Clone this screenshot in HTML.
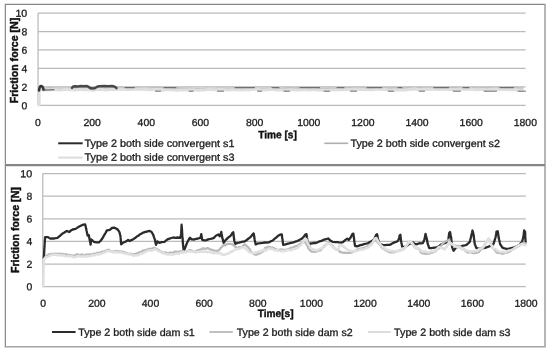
<!DOCTYPE html>
<html><head><meta charset="utf-8"><title>Friction force</title>
<style>html,body{margin:0;padding:0;background:#fff}svg{display:block}</style></head>
<body>
<svg width="550" height="354" viewBox="0 0 550 354" font-family="Liberation Sans, sans-serif" fill="#1c1c1c" stroke="#1c1c1c" stroke-width="0.3">
<rect x="0" y="0" width="550" height="354" fill="#fff" stroke="none"/>

<g fill="none" stroke="#868686">
<path d="M5.35 347.2 V4.4 H545.4" stroke-width="1.2"/>
<path d="M545 3.9 V346.8 H4.8" stroke-width="1.6" stroke="#a4a4a4"/>
<path d="M5 165.1 H545" stroke-width="2.1"/>
</g>
<g fill="none" stroke="#bababa" stroke-width="1.25">
<path d="M38.05 13.05 H525.60"/>
<path d="M38.05 31.52 H525.60"/>
<path d="M38.05 49.99 H525.60"/>
<path d="M38.05 68.46 H525.60"/>
<path d="M38.05 86.93 H525.60"/>
<path d="M38.05 105.40 H525.60"/>
<path d="M38.05 13.05 V105.40"/>
</g>
<g fill="none" stroke="#bababa" stroke-width="1.25">
<path d="M42.75 173.60 H525.80"/>
<path d="M42.75 196.22 H525.80"/>
<path d="M42.75 218.84 H525.80"/>
<path d="M42.75 241.46 H525.80"/>
<path d="M42.75 264.08 H525.80"/>
<path d="M42.75 286.70 H525.80"/>
<path d="M42.75 173.60 V286.70"/>
</g>
<text transform="translate(27.20 16.80) rotate(0.1)" font-size="10.10" text-anchor="end" textLength="11.8" lengthAdjust="spacingAndGlyphs">10</text>
<text transform="translate(32.20 177.25) rotate(0.1)" font-size="10.10" text-anchor="end" textLength="11.9" lengthAdjust="spacingAndGlyphs">10</text>
<text transform="translate(27.20 35.27) rotate(0.1)" font-size="10.10" text-anchor="end" textLength="5.8" lengthAdjust="spacingAndGlyphs">8</text>
<text transform="translate(32.20 199.87) rotate(0.1)" font-size="10.10" text-anchor="end" textLength="5.8" lengthAdjust="spacingAndGlyphs">8</text>
<text transform="translate(27.20 53.74) rotate(0.1)" font-size="10.10" text-anchor="end" textLength="5.8" lengthAdjust="spacingAndGlyphs">6</text>
<text transform="translate(32.20 222.49) rotate(0.1)" font-size="10.10" text-anchor="end" textLength="5.8" lengthAdjust="spacingAndGlyphs">6</text>
<text transform="translate(27.20 72.21) rotate(0.1)" font-size="10.10" text-anchor="end" textLength="5.8" lengthAdjust="spacingAndGlyphs">4</text>
<text transform="translate(32.20 245.11) rotate(0.1)" font-size="10.10" text-anchor="end" textLength="5.8" lengthAdjust="spacingAndGlyphs">4</text>
<text transform="translate(27.20 90.68) rotate(0.1)" font-size="10.10" text-anchor="end" textLength="5.8" lengthAdjust="spacingAndGlyphs">2</text>
<text transform="translate(32.20 267.73) rotate(0.1)" font-size="10.10" text-anchor="end" textLength="5.8" lengthAdjust="spacingAndGlyphs">2</text>
<text transform="translate(27.20 109.15) rotate(0.1)" font-size="10.10" text-anchor="end" textLength="5.8" lengthAdjust="spacingAndGlyphs">0</text>
<text transform="translate(32.20 290.35) rotate(0.1)" font-size="10.10" text-anchor="end" textLength="5.8" lengthAdjust="spacingAndGlyphs">0</text>
<text transform="translate(38.00 126.10) rotate(0.1)" font-size="10.10" text-anchor="middle" textLength="5.8" lengthAdjust="spacingAndGlyphs">0</text>
<text transform="translate(43.20 306.80) rotate(0.1)" font-size="10.10" text-anchor="middle" textLength="5.8" lengthAdjust="spacingAndGlyphs">0</text>
<text transform="translate(92.15 126.10) rotate(0.1)" font-size="10.10" text-anchor="middle" textLength="17.4" lengthAdjust="spacingAndGlyphs">200</text>
<text transform="translate(96.85 306.80) rotate(0.1)" font-size="10.10" text-anchor="middle" textLength="17.4" lengthAdjust="spacingAndGlyphs">200</text>
<text transform="translate(146.30 126.10) rotate(0.1)" font-size="10.10" text-anchor="middle" textLength="17.4" lengthAdjust="spacingAndGlyphs">400</text>
<text transform="translate(150.50 306.80) rotate(0.1)" font-size="10.10" text-anchor="middle" textLength="17.4" lengthAdjust="spacingAndGlyphs">400</text>
<text transform="translate(200.45 126.10) rotate(0.1)" font-size="10.10" text-anchor="middle" textLength="17.4" lengthAdjust="spacingAndGlyphs">600</text>
<text transform="translate(204.15 306.80) rotate(0.1)" font-size="10.10" text-anchor="middle" textLength="17.4" lengthAdjust="spacingAndGlyphs">600</text>
<text transform="translate(254.60 126.10) rotate(0.1)" font-size="10.10" text-anchor="middle" textLength="17.4" lengthAdjust="spacingAndGlyphs">800</text>
<text transform="translate(257.80 306.80) rotate(0.1)" font-size="10.10" text-anchor="middle" textLength="17.4" lengthAdjust="spacingAndGlyphs">800</text>
<text transform="translate(308.75 126.10) rotate(0.1)" font-size="10.10" text-anchor="middle" textLength="23.2" lengthAdjust="spacingAndGlyphs">1000</text>
<text transform="translate(311.45 306.80) rotate(0.1)" font-size="10.10" text-anchor="middle" textLength="23.2" lengthAdjust="spacingAndGlyphs">1000</text>
<text transform="translate(362.90 126.10) rotate(0.1)" font-size="10.10" text-anchor="middle" textLength="23.2" lengthAdjust="spacingAndGlyphs">1200</text>
<text transform="translate(365.10 306.80) rotate(0.1)" font-size="10.10" text-anchor="middle" textLength="23.2" lengthAdjust="spacingAndGlyphs">1200</text>
<text transform="translate(417.05 126.10) rotate(0.1)" font-size="10.10" text-anchor="middle" textLength="23.2" lengthAdjust="spacingAndGlyphs">1400</text>
<text transform="translate(418.75 306.80) rotate(0.1)" font-size="10.10" text-anchor="middle" textLength="23.2" lengthAdjust="spacingAndGlyphs">1400</text>
<text transform="translate(471.20 126.10) rotate(0.1)" font-size="10.10" text-anchor="middle" textLength="23.2" lengthAdjust="spacingAndGlyphs">1600</text>
<text transform="translate(472.40 306.80) rotate(0.1)" font-size="10.10" text-anchor="middle" textLength="23.2" lengthAdjust="spacingAndGlyphs">1600</text>
<text transform="translate(525.35 126.10) rotate(0.1)" font-size="10.10" text-anchor="middle" textLength="23.2" lengthAdjust="spacingAndGlyphs">1800</text>
<text transform="translate(526.05 306.80) rotate(0.1)" font-size="10.10" text-anchor="middle" textLength="23.2" lengthAdjust="spacingAndGlyphs">1800</text>
<text transform="translate(258.20 138.20) rotate(0.1)" font-size="10.60" textLength="38.7" lengthAdjust="spacingAndGlyphs" font-weight="bold" stroke="#111" stroke-width="0.4" fill="#111">Time [s]</text>
<text transform="translate(257.80 316.90) rotate(0.1)" font-size="10.60" textLength="35.8" lengthAdjust="spacingAndGlyphs" font-weight="bold" stroke="#111" stroke-width="0.4" fill="#111">Time[s]</text>
<text transform="translate(17.7 103.3) rotate(-90)" font-size="10.6" font-weight="bold" stroke="#111" stroke-width="0.45" fill="#111" textLength="85.6" lengthAdjust="spacingAndGlyphs">Friction force [N]</text>
<text transform="translate(18.8 273.1) rotate(-90)" font-size="10.6" font-weight="bold" stroke="#111" stroke-width="0.45" fill="#111" textLength="86.0" lengthAdjust="spacingAndGlyphs">Friction force [N]</text>
<g fill="none" stroke-linejoin="round" stroke-linecap="round">
<path d="M38.5 88.4 L42.5 88.6 L46.5 88.1 L50.5 87.8 L54.5 88.2 L58.5 88.3 L62.5 88.3 L66.5 88.1 L70.5 88.2 L74.5 88.2 L78.5 88.2 L82.5 87.9 L86.5 88.0 L90.5 87.9 L94.5 88.2 L98.5 88.5 L102.5 88.6 L106.5 88.5 L110.5 88.3 L114.5 88.0 L118.5 87.7 L122.5 87.6 L126.5 87.7 L130.5 87.8 L134.5 87.8 L138.5 88.2 L142.5 88.2 L146.5 88.2 L150.5 88.0 L154.5 87.7 L158.5 87.7 L162.5 87.6 L166.5 87.8 L170.5 88.3 L174.5 88.3 L178.5 88.0 L182.5 88.3 L186.5 88.4 L190.5 88.5 L194.5 88.6 L198.5 88.6 L202.5 88.6 L206.5 88.3 L210.5 88.6 L214.5 88.7 L218.5 88.2 L222.5 88.3 L226.5 88.4 L230.5 88.3 L234.5 88.2 L238.5 88.2 L242.5 88.4 L246.5 88.3 L250.5 88.5 L254.5 88.2 L258.5 88.4 L262.5 88.6 L266.5 88.4 L270.5 88.3 L274.5 88.5 L278.5 88.5 L282.5 88.3 L286.5 88.0 L290.5 87.9 L294.5 88.1 L298.5 87.9 L302.5 88.3 L306.5 88.0 L310.5 88.3 L314.5 88.1 L318.5 88.4 L322.5 88.4 L326.5 88.3 L330.5 88.2 L334.5 88.3 L338.5 88.3 L342.5 88.1 L346.5 87.9 L350.5 88.0 L354.5 88.3 L358.5 88.3 L362.5 87.9 L366.5 88.2 L370.5 88.3 L374.5 88.5 L378.5 88.1 L382.5 88.3 L386.5 87.9 L390.5 88.1 L394.5 87.9 L398.5 87.8 L402.5 88.2 L406.5 87.9 L410.5 88.0 L414.5 88.3 L418.5 88.0 L422.5 87.9 L426.5 88.2 L430.5 88.1 L434.5 88.3 L438.5 87.9 L442.5 87.9 L446.5 87.7 L450.5 88.0 L454.5 87.7 L458.5 88.2 L462.5 87.8 L466.5 88.1 L470.5 87.8 L474.5 87.7 L478.5 88.1 L482.5 87.9 L486.5 87.7 L490.5 88.0 L494.5 88.0 L498.5 87.7 L502.5 88.2 L506.5 87.9 L510.5 87.7 L514.5 87.7 L518.5 88.0 L522.5 88.2" stroke="#c0c0c0" stroke-width="1.8"/>
<path d="M39.2 105.0 L39.2 91.0 L39.6 89.4 L42.6 89.8 L45.6 90.0 L48.6 89.7 L51.6 89.7 L54.6 89.6 L57.6 89.8 L60.6 90.0 L63.6 89.5 L66.6 89.2 L69.6 89.7 L72.6 89.6 L75.6 89.9 L78.6 89.4 L81.6 89.5 L84.6 89.7 L87.6 89.5 L90.6 89.9 L93.6 90.2 L96.6 89.6 L99.6 89.3 L102.6 89.5 L105.6 89.9 L108.6 89.7 L111.6 89.5 L114.6 89.5 L117.6 89.2 L120.6 89.2 L123.6 89.3 L126.6 89.5 L129.6 89.4 L132.6 89.3 L135.6 89.2 L138.6 89.4 L141.6 89.3 L144.6 89.1 L147.6 89.6 L150.6 89.7 L153.6 89.8 L156.6 89.5 L159.6 90.0 L162.6 90.2 L165.6 89.7 L168.6 89.5 L171.6 89.8 L174.6 89.9 L177.6 90.2 L180.6 89.9 L183.6 90.1 L186.6 90.1 L189.6 89.8 L192.6 89.8 L195.6 90.1 L198.6 90.2 L201.6 90.0 L204.6 90.0 L207.6 89.5 L210.6 89.4 L213.6 89.7 L216.6 89.7 L219.6 89.4 L222.6 89.6 L225.6 89.8 L228.6 89.9 L231.6 89.7 L234.6 89.7 L237.6 89.7 L240.6 89.9 L243.6 89.8 L246.6 89.7 L249.6 89.7 L252.6 89.3 L255.6 89.1 L258.6 89.5 L261.6 90.0 L264.6 89.9 L267.6 89.8 L270.6 89.5 L273.6 89.6 L276.6 90.0 L279.6 90.1 L282.6 90.0 L285.6 90.2 L288.6 89.8 L291.6 89.7 L294.6 90.1 L297.6 90.0 L300.6 89.8 L303.6 89.6 L306.6 89.7 L309.6 90.1 L312.6 89.5 L315.6 89.8 L318.6 90.0 L321.6 90.2 L324.6 90.2 L327.6 90.2 L330.6 90.0 L333.6 90.0 L336.6 89.8 L339.6 89.4 L342.6 89.8 L345.6 89.8 L348.6 89.5 L351.6 89.6 L354.6 89.6 L357.6 89.5 L360.6 89.5 L363.6 89.6 L366.6 89.7 L369.6 89.8 L372.6 89.7 L375.6 89.3 L378.6 89.3 L381.6 89.2 L384.6 89.5 L387.6 89.8 L390.6 90.0 L393.6 90.1 L396.6 90.2 L399.6 89.8 L402.6 90.0 L405.6 90.0 L408.6 89.6 L411.6 89.2 L414.6 89.0 L417.6 89.5 L420.6 89.4 L423.6 89.2 L426.6 89.5 L429.6 89.5 L432.6 89.2 L435.6 89.1 L438.6 89.4 L441.6 89.2 L444.6 89.2 L447.6 89.6 L450.6 89.6 L453.6 89.5 L456.6 89.6 L459.6 89.2 L462.6 89.3 L465.6 89.4 L468.6 89.3 L471.6 89.1 L474.6 89.7 L477.6 89.7 L480.6 89.5 L483.6 89.6 L486.6 89.9 L489.6 89.4 L492.6 89.2 L495.6 89.1 L498.6 89.5 L501.6 89.3 L504.6 89.6 L507.6 89.8 L510.6 89.8 L513.6 89.5 L516.6 90.0 L519.6 90.1 L522.6 90.0" stroke="#dedede" stroke-width="3.0"/>
<path d="M39.0 90.6 L39.5 88.0 L40.3 86.3 L41.4 86.0 L42.4 86.5 L43.1 88.0 L43.6 89.8" stroke="#333" stroke-width="2.5"/>
<path d="M43.6 89.9 L48.0 90.0 L54.0 89.7" stroke="#555" stroke-width="1.1"/>
<path d="M72.0 87.8 L73.2 86.5 L75.0 86.2 L78.0 86.5 L81.0 86.0 L84.0 86.2 L87.0 86.1 L88.6 86.8 L90.0 88.0 L92.0 88.5 L94.5 88.3 L96.0 87.5 L97.5 86.5 L100.0 86.2 L104.0 86.0 L108.0 86.3 L112.0 86.1 L114.3 86.5 L115.6 87.3 L116.5 88.2" stroke="#484848" stroke-width="2.5"/>
<path d="M125.0 87.7 H134.5" stroke="#5c5c5c" stroke-width="1.0"/>
<path d="M164.0 87.7 H176.0" stroke="#5c5c5c" stroke-width="1.0"/>
<path d="M235.0 87.7 H254.6" stroke="#5c5c5c" stroke-width="1.0"/>
<path d="M272.0 87.7 H279.0" stroke="#5c5c5c" stroke-width="1.0"/>
<path d="M300.0 87.7 H319.6" stroke="#5c5c5c" stroke-width="1.0"/>
<path d="M337.0 87.7 H344.0" stroke="#5c5c5c" stroke-width="1.0"/>
<path d="M367.0 87.7 H382.0" stroke="#5c5c5c" stroke-width="1.0"/>
<path d="M398.0 87.7 H402.0" stroke="#5c5c5c" stroke-width="1.0"/>
<path d="M433.6 87.7 H448.6" stroke="#5c5c5c" stroke-width="1.0"/>
<path d="M463.0 87.7 H469.0" stroke="#5c5c5c" stroke-width="1.0"/>
<path d="M500.0 87.7 H513.5" stroke="#5c5c5c" stroke-width="1.0"/>
<path d="M155.5 91.2 H160.5" stroke="#606060" stroke-width="0.9"/>
<path d="M189.2 91.2 H193.1" stroke="#606060" stroke-width="0.9"/>
<path d="M217.5 91.2 H223.5" stroke="#606060" stroke-width="0.9"/>
<path d="M257.5 91.2 H261.5" stroke="#606060" stroke-width="0.9"/>
<path d="M284.0 91.2 H289.5" stroke="#606060" stroke-width="0.9"/>
<path d="M324.1 91.2 H329.5" stroke="#606060" stroke-width="0.9"/>
<path d="M350.5 91.2 H356.5" stroke="#606060" stroke-width="0.9"/>
<path d="M388.3 91.2 H393.5" stroke="#606060" stroke-width="0.9"/>
<path d="M419.2 91.2 H424.5" stroke="#606060" stroke-width="0.9"/>
<path d="M453.2 91.2 H460.5" stroke="#606060" stroke-width="0.9"/>
<path d="M484.1 91.2 H496.5" stroke="#606060" stroke-width="0.9"/>
<path d="M518.1 91.2 H525.5" stroke="#606060" stroke-width="0.9"/>
</g>
<g fill="none" stroke-linejoin="round" stroke-linecap="round">
<path d="M43.8 258.5 L43.9 256.9 L44.0 255.4 L44.1 253.9 L44.2 252.4 L44.2 250.8 L44.3 249.3 L44.4 247.8 L44.5 246.3 L44.6 244.7 L44.7 243.2 L44.8 241.7 L44.9 240.1 L45.0 238.6 L45.1 237.1 L48.0 237.1 L50.2 238.6 L52.0 238.5 L53.8 238.5 L55.6 238.2 L57.5 237.8 L58.9 236.6 L60.4 235.5 L61.8 234.2 L63.1 233.2 L64.4 232.5 L65.6 231.6 L66.9 231.0 L69.1 232.0 L70.9 230.5 L72.7 229.5 L75.6 228.9 L77.1 227.9 L78.5 226.9 L80.2 226.0 L81.9 225.2 L83.6 224.7 L85.1 224.3 L85.5 225.8 L85.8 227.4 L86.2 228.8 L86.5 230.5 L86.9 232.2 L87.3 234.1 L87.7 235.6 L88.7 234.9 L89.1 236.6 L89.4 238.4 L89.7 240.0 L90.2 242.1 L90.6 244.5 L90.8 242.9 L91.0 241.1 L91.2 239.3 L92.5 240.5 L93.8 241.8 L96.7 242.4 L98.9 242.4 L100.4 241.0 L101.8 239.3 L102.8 237.7 L103.8 235.8 L104.7 234.3 L105.8 232.5 L106.9 230.4 L109.8 229.8 L112.0 228.0 L114.2 227.6 L115.0 228.0 L117.2 229.1 L118.3 230.3 L119.4 232.0 L119.8 233.6 L120.1 234.8 L120.5 236.3 L120.6 237.9 L120.8 239.8 L120.9 241.3 L121.0 242.6 L121.1 244.3 L123.0 242.8 L125.2 241.8 L126.6 241.1 L128.1 239.9 L129.5 241.0 L131.4 240.1 L133.2 239.2 L135.0 238.1 L136.8 236.6 L138.3 235.8 L139.7 234.5 L141.2 233.7 L142.6 232.9 L144.1 232.3 L145.5 231.8 L147.4 231.5 L149.2 230.9 L151.4 231.8 L152.5 233.5 L153.5 235.6 L154.0 237.3 L154.5 238.6 L155.0 239.9 L155.3 241.8 L155.7 243.1 L156.0 244.8 L156.7 243.3 L157.5 241.4 L159.4 242.9 L161.5 242.1 L164.5 241.8 L166.6 240.0 L168.1 239.1 L169.5 238.6 L171.4 238.0 L173.2 237.5 L175.4 237.8 L177.5 237.5 L180.2 237.8 L180.7 235.8 L181.2 233.4 L181.3 231.5 L181.4 230.2 L181.4 228.4 L181.5 226.3 L181.6 224.7 L181.7 226.6 L181.9 228.4 L182.0 229.8 L182.1 231.9 L182.2 233.5 L182.3 235.2 L182.4 236.7 L182.6 238.2 L182.7 239.9 L182.8 242.0 L182.9 243.3 L183.1 245.1 L183.3 246.8 L183.5 248.9 L183.7 250.6 L184.8 248.7 L185.4 247.1 L185.9 245.9 L186.5 244.1 L187.0 242.9 L187.7 241.5 L188.5 240.2 L189.2 238.6 L190.0 237.8 L191.5 239.4 L194.4 239.5 L196.2 238.8 L198.0 238.5 L200.5 237.8 L200.9 235.8 L201.3 234.1 L201.6 236.1 L201.9 238.1 L202.2 239.9 L204.5 240.4 L206.4 240.1 L208.2 239.4 L210.0 239.0 L211.8 238.6 L214.0 237.8 L215.1 236.5 L216.2 235.5 L218.4 234.5 L219.8 236.4 L220.3 235.0 L220.8 233.7 L221.3 231.9 L221.6 234.0 L222.0 235.9 L222.3 237.9 L222.8 239.4 L223.3 241.5 L223.7 242.8 L224.7 241.5 L225.6 240.0 L226.7 239.1 L227.8 237.9 L229.3 236.8 L230.7 235.7 L231.6 234.4 L232.5 232.7 L233.3 232.3 L233.5 234.2 L233.7 236.0 L233.9 237.5 L234.1 239.3 L234.4 241.0 L234.8 242.4 L235.1 244.0 L237.3 242.9 L239.1 242.6 L240.9 242.2 L242.7 241.6 L244.5 241.5 L246.0 240.6 L247.5 239.3 L248.9 238.3 L250.4 237.1 L251.6 235.8 L252.8 234.2 L253.7 233.4 L254.0 235.3 L254.2 236.5 L254.5 238.5 L254.7 239.9 L255.2 242.2 L255.7 244.4 L258.4 243.3 L260.5 243.2 L262.7 242.9 L265.0 242.5 L266.8 242.7 L268.6 242.4 L270.5 241.4 L272.3 240.7 L273.5 239.8 L274.7 238.6 L275.9 237.8 L277.0 236.9 L278.1 235.7 L280.3 234.6 L281.7 234.3 L282.0 235.8 L282.2 237.7 L282.5 239.2 L282.7 241.1 L282.9 243.1 L283.2 244.9 L285.4 244.4 L287.2 243.8 L289.0 243.4 L291.2 242.8 L293.4 242.4 L295.2 241.7 L297.0 241.1 L298.8 240.3 L300.6 239.3 L302.1 238.4 L303.5 237.0 L304.5 235.7 L305.4 234.6 L306.5 234.1 L306.7 235.7 L306.9 237.5 L307.2 239.3 L307.4 240.9 L307.7 242.5 L307.9 244.4 L308.2 245.9 L309.1 246.5 L309.6 244.9 L310.1 243.5 L312.3 243.4 L314.1 242.9 L315.9 243.0 L317.7 242.2 L319.5 241.4 L321.4 240.9 L323.2 239.9 L326.1 239.2 L328.3 238.5 L329.7 239.9 L331.2 241.1 L332.6 241.8 L335.5 242.1 L337.4 242.1 L339.2 242.5 L340.0 242.9 L342.9 242.2 L344.0 241.2 L345.1 240.1 L347.3 238.6 L348.7 240.0 L350.5 237.8 L351.4 236.0 L352.4 234.1 L353.4 233.6 L353.6 235.6 L353.9 237.5 L354.1 239.2 L354.3 240.8 L354.5 242.5 L354.8 244.3 L355.0 245.8 L356.7 246.3 L358.5 245.8 L360.4 245.1 L361.8 244.8 L363.3 244.5 L364.7 243.8 L366.5 243.6 L368.4 243.0 L369.8 242.0 L371.3 241.4 L372.7 240.4 L374.2 239.4 L374.8 237.8 L375.4 236.4 L376.1 235.0 L377.1 234.2 L377.5 236.2 L377.8 237.8 L378.2 239.6 L378.6 241.1 L379.0 243.0 L380.7 244.4 L382.9 244.8 L385.1 245.1 L387.3 244.8 L389.5 244.9 L391.3 244.1 L393.1 243.0 L394.5 242.4 L396.0 241.9 L398.2 240.7 L398.7 239.2 L399.2 237.5 L399.6 235.6 L400.4 234.8 L400.6 236.8 L400.8 238.8 L401.1 240.8 L401.4 242.7 L401.8 244.4 L402.1 246.6 L404.0 247.2 L405.5 246.7 L406.9 245.8 L408.4 244.6 L409.8 243.7 L411.3 242.7 L412.7 242.1 L414.2 243.3 L415.6 244.4 L417.5 244.0 L419.3 243.2 L421.0 243.4 L422.7 243.1 L423.7 241.3 L424.6 238.9 L424.9 237.2 L425.2 235.6 L425.5 233.9 L426.0 235.9 L426.5 237.8 L426.9 239.3 L427.2 241.1 L427.5 242.5 L427.8 244.1 L428.5 245.9 L429.1 248.0 L431.0 248.1 L432.9 247.9 L434.6 247.7 L436.3 247.5 L438.0 246.9 L439.3 246.0 L440.5 244.9 L441.8 244.1 L443.7 243.5 L445.6 242.8 L446.9 241.6 L448.2 241.0 L448.4 239.3 L448.6 237.7 L448.8 236.2 L449.0 234.5 L449.2 232.9 L450.0 232.0 L450.4 233.7 L450.8 235.9 L451.2 237.8 L451.3 239.6 L451.5 241.2 L451.7 242.4 L451.8 244.1 L452.0 245.5 L452.2 247.3 L452.9 249.1 L453.6 250.7 L454.7 249.3 L455.8 248.0 L457.3 247.1 L458.7 246.6 L460.9 246.4 L463.1 245.7 L464.9 245.4 L466.7 244.7 L468.2 243.3 L469.6 242.1 L470.0 240.8 L470.4 239.2 L470.8 237.7 L471.1 236.4 L471.5 234.8 L472.0 232.8 L472.5 230.5 L473.1 232.7 L473.6 234.9 L473.8 236.5 L474.0 238.4 L474.3 240.1 L474.5 241.8 L474.7 243.6 L475.2 245.1 L475.7 246.4 L476.2 247.9 L479.1 248.8 L481.3 248.4 L483.5 248.0 L484.9 247.8 L486.4 247.3 L487.8 246.9 L489.6 246.2 L491.5 245.9 L492.5 244.9 L493.6 243.7 L494.1 242.1 L494.5 240.6 L494.9 239.5 L495.4 237.8 L495.7 236.5 L496.0 235.0 L496.3 233.1 L496.5 231.7 L497.7 231.3 L498.0 232.8 L498.2 234.3 L498.5 236.3 L498.7 237.8 L499.1 239.6 L499.5 240.9 L499.8 242.7 L500.2 244.4 L501.3 245.8 L502.4 247.6 L504.5 248.3 L506.7 248.8 L508.9 248.7 L511.1 248.2 L512.5 247.8 L514.0 247.5 L515.5 246.8 L517.3 246.1 L519.1 245.0 L520.5 243.4 L522.0 242.1 L522.5 240.0 L523.0 238.3 L523.5 236.4 L523.7 234.5 L523.9 232.3 L524.2 230.5 L525.1 231.9 L525.2 233.9 L525.2 235.6 L525.3 237.3 L525.4 238.6 L525.5 240.3 L525.6 242.2" stroke="#2b2b2b" stroke-width="2.3"/>
<path d="M43.3 264.0 L43.4 262.5 L43.5 261.1 L43.6 259.6 L44.7 258.2 L45.8 256.5 L47.3 255.3 L48.7 254.4 L50.2 254.2 L51.6 253.8 L53.1 254.1 L54.5 253.6 L56.0 253.7 L57.5 253.8 L58.9 253.9 L60.4 253.6 L61.8 254.0 L63.3 254.1 L64.7 254.9 L66.2 254.1 L67.6 255.2 L69.1 254.8 L70.5 255.4 L72.0 255.3 L73.5 255.7 L74.9 255.7 L76.4 254.5 L77.8 254.5 L79.3 255.2 L80.7 254.8 L82.2 254.5 L83.6 255.2 L85.1 255.4 L86.5 254.4 L88.0 254.7 L89.5 254.5 L90.9 254.3 L92.4 254.4 L93.8 253.7 L95.3 253.9 L96.7 253.0 L98.2 252.8 L99.6 252.9 L101.1 252.2 L102.5 251.7 L104.0 251.4 L105.5 250.8 L106.9 250.2 L108.4 249.7 L109.8 250.6 L111.3 251.4 L112.7 251.6 L114.2 251.5 L115.6 251.1 L117.1 251.1 L118.5 251.3 L120.8 251.7 L122.3 251.6 L123.7 252.1 L125.2 252.6 L126.6 253.1 L128.1 253.8 L129.5 253.8 L131.0 253.7 L132.5 254.7 L133.9 254.1 L135.4 253.9 L136.8 253.4 L138.3 252.8 L139.7 252.1 L141.2 251.8 L142.6 250.7 L144.1 250.7 L145.5 250.0 L147.0 250.0 L148.5 248.9 L149.9 248.8 L151.4 248.7 L152.8 248.5 L154.3 247.8 L155.7 248.7 L157.2 249.1 L158.6 250.1 L160.1 250.9 L161.5 252.1 L163.0 252.4 L164.5 253.0 L165.9 252.4 L167.4 253.4 L168.8 253.0 L170.3 252.5 L171.7 252.9 L173.2 252.5 L174.6 251.6 L176.1 251.7 L177.5 252.1 L179.0 251.6 L180.5 251.4 L181.9 251.1 L183.4 251.1 L184.8 251.7 L186.3 251.7 L187.7 251.2 L189.2 250.2 L190.0 250.0 L191.5 250.5 L192.9 251.5 L194.4 251.8 L195.8 251.3 L197.3 250.4 L198.7 250.2 L200.2 249.5 L201.6 249.1 L203.1 248.2 L204.5 248.8 L206.0 248.7 L207.5 248.1 L208.9 248.5 L210.4 249.7 L211.8 249.6 L213.3 250.6 L214.7 250.5 L216.2 251.0 L217.6 250.8 L219.1 250.1 L220.0 248.9 L220.9 247.7 L221.8 247.1 L222.7 245.9 L223.9 244.9 L225.2 245.3 L226.4 244.3 L227.8 243.8 L229.3 243.8 L230.7 243.8 L232.2 244.4 L233.6 245.1 L235.1 246.6 L236.5 247.5 L238.0 247.6 L239.5 247.2 L240.9 247.3 L242.1 246.7 L243.3 245.7 L244.5 244.4 L245.8 245.2 L247.0 246.2 L248.2 247.4 L248.9 248.4 L249.6 248.9 L250.4 250.8 L251.1 251.8 L252.2 252.7 L253.3 253.5 L254.4 254.3 L255.5 254.6 L256.9 254.5 L258.4 253.7 L259.8 253.4 L260.9 252.5 L262.0 251.6 L263.1 251.5 L264.2 250.3 L265.0 248.0 L266.5 247.7 L267.9 246.8 L269.4 246.9 L270.8 247.5 L272.3 247.7 L273.7 248.2 L275.2 248.8 L276.6 249.4 L278.1 250.3 L279.5 249.7 L281.0 249.5 L282.5 249.6 L283.9 249.8 L285.4 249.8 L286.8 249.5 L288.3 249.4 L289.7 248.5 L291.2 247.7 L292.6 247.7 L294.1 247.2 L295.5 246.2 L297.0 246.0 L298.5 245.0 L299.7 244.1 L300.9 243.4 L302.1 243.1 L303.2 241.6 L304.3 241.4 L305.4 242.7 L306.5 244.2 L307.2 245.7 L307.9 247.0 L308.6 248.9 L309.6 249.7 L310.6 250.9 L311.5 251.5 L313.0 251.6 L314.5 251.8 L315.9 251.8 L317.4 250.9 L318.8 250.6 L320.3 250.3 L321.2 249.6 L322.2 247.9 L323.2 247.3 L324.2 246.6 L325.1 245.2 L326.1 244.4 L327.5 243.8 L329.0 243.1 L330.5 244.1 L331.9 245.2 L332.9 246.1 L333.8 247.8 L334.8 248.6 L336.3 249.5 L337.7 250.0 L339.2 250.8 L340.0 252.2 L341.5 252.2 L342.9 252.8 L344.4 252.6 L345.8 252.9 L347.3 253.2 L348.7 252.5 L350.2 253.0 L351.6 252.4 L353.1 251.5 L354.5 251.3 L356.0 250.4 L357.5 249.5 L358.9 248.8 L360.4 248.9 L361.8 248.4 L363.3 248.0 L364.7 247.7 L366.2 246.9 L367.6 246.6 L368.7 245.4 L369.8 244.6 L370.9 243.7 L372.0 242.9 L373.0 241.8 L373.9 241.3 L374.9 239.9 L376.0 240.4 L377.1 241.3 L378.1 243.2 L379.0 243.9 L380.0 244.9 L381.2 246.7 L382.4 247.9 L383.6 248.9 L384.7 249.3 L385.8 250.4 L386.9 250.7 L388.0 251.5 L389.5 252.2 L390.9 252.4 L392.4 251.9 L393.8 252.5 L395.3 251.5 L396.7 251.4 L398.2 250.7 L399.6 250.8 L401.1 249.8 L402.5 249.7 L404.0 248.6 L404.9 247.3 L405.8 246.2 L406.7 245.2 L407.6 244.5 L408.7 243.0 L409.8 241.3 L410.9 242.7 L412.0 243.7 L413.0 244.8 L413.9 246.1 L414.9 247.3 L416.4 248.2 L417.8 248.5 L419.3 249.2 L420.0 250.5 L420.7 252.0 L421.5 253.2 L423.0 253.3 L424.6 253.5 L426.2 253.8 L427.8 253.5 L429.1 253.7 L430.4 252.9 L431.6 252.9 L432.9 252.3 L434.2 251.9 L435.5 251.0 L436.7 249.7 L438.0 248.8 L439.3 248.0 L440.2 247.1 L441.2 246.1 L442.1 244.2 L443.1 243.3 L444.4 242.2 L445.6 241.3 L446.9 240.7 L449.2 239.8 L449.6 241.6 L450.0 243.5 L451.5 244.3 L452.9 244.7 L454.4 245.3 L455.8 245.8 L457.3 245.8 L458.7 246.0 L459.8 246.0 L460.9 247.0 L462.0 248.5 L463.1 248.7 L464.2 249.3 L465.3 250.8 L466.4 251.4 L467.5 252.4 L468.9 252.3 L470.4 252.4 L471.8 252.5 L473.3 253.1 L474.7 253.2 L476.2 252.9 L477.6 252.3 L479.1 251.8 L480.2 250.4 L481.3 249.2 L482.4 248.8 L483.5 247.3 L484.2 246.2 L484.9 244.2 L485.6 243.2 L486.4 242.2 L487.1 241.2 L487.8 240.1 L488.5 238.7 L489.3 239.8 L490.0 241.4 L490.5 243.3 L491.1 244.9 L491.6 245.8 L492.2 247.1 L493.1 248.4 L493.9 249.3 L494.8 250.2 L495.7 251.0 L496.5 252.3 L498.0 252.8 L499.5 252.5 L500.9 253.3 L502.4 253.7 L503.8 253.5 L505.3 252.7 L506.7 252.6 L508.2 252.2 L509.3 251.9 L510.5 251.1 L511.7 249.8 L512.8 249.5 L514.0 248.8 L515.2 248.1 L516.3 247.1 L517.5 246.3 L518.7 245.7 L519.8 245.3 L521.3 244.2 L522.7 243.6 L524.2 242.9 L525.6 243.6" stroke="#bababa" stroke-width="2.3"/>
<path d="M43.3 286.4 L43.4 285.1 L43.4 283.7 L43.4 282.4 L43.4 281.0 L43.4 279.7 L43.4 278.4 L43.4 277.0 L43.5 275.7 L43.5 274.4 L43.5 273.0 L43.5 271.7 L43.5 270.3 L43.5 269.0 L43.5 267.7 L43.6 266.3 L43.6 265.0 L43.6 263.7 L43.6 262.3 L43.6 261.0 L43.6 259.6 L44.7 258.5 L45.8 257.3 L47.3 257.0 L48.7 256.4 L50.2 255.7 L51.6 255.0 L53.1 254.8 L54.5 254.7 L56.0 254.6 L57.5 255.3 L58.9 255.0 L60.4 255.3 L61.8 255.1 L63.3 255.5 L64.7 255.7 L66.2 256.3 L67.6 256.2 L69.1 256.1 L70.5 256.3 L72.0 256.4 L73.5 257.2 L74.9 257.0 L76.4 256.7 L77.8 256.1 L79.3 256.3 L80.7 256.6 L82.2 256.5 L83.6 256.2 L85.1 256.6 L86.5 256.1 L88.0 256.4 L89.5 256.0 L90.9 255.7 L92.4 255.3 L93.8 255.2 L95.3 254.9 L96.7 254.2 L98.2 254.6 L99.6 253.9 L101.1 253.9 L102.5 253.1 L104.0 252.4 L105.5 252.2 L106.9 251.0 L108.4 251.0 L109.8 251.3 L111.3 251.5 L112.7 252.2 L114.2 252.4 L115.6 252.1 L117.1 252.3 L118.5 252.4 L120.8 252.6 L122.3 252.6 L123.7 253.4 L125.2 253.5 L126.6 254.0 L128.1 254.1 L129.5 254.5 L131.0 254.5 L132.5 255.4 L133.9 255.8 L135.4 255.2 L136.8 255.3 L138.3 255.3 L139.7 254.3 L141.2 253.4 L142.6 253.4 L144.1 252.5 L145.5 252.0 L147.0 250.9 L148.5 250.6 L149.9 250.3 L151.4 250.4 L152.8 250.2 L154.3 249.3 L155.7 249.6 L157.2 250.0 L158.6 251.1 L160.1 251.5 L161.5 252.8 L163.0 253.0 L164.5 253.7 L165.9 254.0 L167.4 254.3 L168.8 254.4 L170.3 254.5 L171.7 254.3 L173.2 254.6 L174.6 254.1 L176.1 253.8 L177.5 253.4 L179.0 253.6 L180.5 252.8 L181.9 252.6 L183.4 252.2 L184.8 252.4 L186.3 252.0 L187.7 251.6 L189.2 251.0 L190.0 251.6 L191.5 251.6 L192.9 251.6 L194.4 251.6 L195.8 252.6 L197.3 251.8 L198.7 251.8 L200.2 251.6 L201.6 251.7 L203.1 251.3 L204.5 251.8 L206.0 251.8 L207.5 252.2 L208.9 251.8 L210.4 252.4 L211.8 252.8 L213.3 253.3 L214.7 253.1 L216.2 253.1 L217.6 253.3 L219.1 253.0 L220.5 253.3 L222.0 254.5 L223.5 254.9 L224.9 254.5 L226.4 254.0 L227.8 253.6 L229.3 253.1 L230.7 252.0 L232.2 251.4 L233.6 250.4 L235.1 249.6 L236.5 249.2 L238.0 248.7 L239.5 248.7 L240.9 247.7 L242.4 247.6 L243.8 247.1 L245.3 248.6 L246.7 249.5 L247.7 249.9 L248.7 251.7 L249.6 252.2 L251.1 252.6 L252.5 252.9 L254.0 253.0 L255.5 252.5 L256.9 252.3 L258.4 251.6 L259.8 251.8 L261.3 250.6 L262.7 250.7 L264.2 249.6 L265.0 250.8 L266.5 250.1 L267.9 248.9 L269.4 248.6 L270.8 248.8 L272.3 249.1 L273.7 249.6 L275.2 250.4 L276.6 249.7 L278.1 250.6 L279.5 250.7 L281.0 251.2 L282.5 250.7 L283.9 251.3 L285.4 250.9 L286.8 250.3 L288.3 250.0 L289.7 250.1 L291.2 250.3 L292.6 249.3 L294.1 249.2 L295.5 248.6 L297.0 248.2 L298.1 247.6 L299.2 246.0 L300.3 245.6 L301.4 244.4 L302.1 243.8 L302.8 242.2 L303.5 241.6 L304.3 240.0 L306.5 239.3 L306.9 240.9 L307.4 242.6 L307.9 243.8 L308.6 244.4 L309.4 245.7 L310.1 247.3 L311.5 248.7 L313.0 249.5 L314.5 249.5 L315.9 250.4 L317.4 250.1 L318.8 249.2 L320.3 248.7 L321.7 248.5 L322.7 247.8 L323.7 245.9 L324.6 245.2 L326.1 244.4 L327.5 243.1 L329.0 244.0 L330.5 244.3 L331.4 245.5 L332.4 246.7 L333.4 247.4 L334.5 247.8 L335.5 249.0 L336.6 249.0 L337.7 250.1 L338.3 249.3 L338.9 247.2 L339.4 245.6 L340.0 244.5 L341.5 245.4 L342.9 246.3 L344.4 247.1 L345.8 248.6 L347.3 249.3 L348.7 250.7 L350.2 250.8 L351.6 251.3 L353.1 251.3 L354.5 250.8 L356.0 251.1 L357.5 250.8 L358.9 250.2 L360.4 249.6 L361.8 249.4 L363.3 249.5 L364.7 248.8 L366.2 248.0 L367.6 247.9 L368.7 247.1 L369.8 245.8 L370.9 245.4 L372.0 244.2 L372.6 243.6 L373.2 241.7 L373.7 240.4 L374.3 239.8 L374.9 238.5 L376.4 238.0 L377.1 239.3 L377.8 240.8 L378.5 242.3 L379.5 243.1 L380.5 244.9 L381.5 245.9 L382.7 246.7 L383.9 248.3 L385.1 248.5 L386.5 249.9 L388.0 249.8 L389.5 251.1 L390.9 250.7 L392.4 250.8 L393.8 251.5 L395.3 251.8 L396.7 251.0 L398.2 250.9 L399.6 250.7 L401.1 250.1 L402.2 249.5 L403.3 248.2 L404.4 247.9 L405.5 247.4 L406.2 246.0 L406.9 244.8 L407.6 243.5 L408.4 243.0 L409.5 241.7 L410.5 240.9 L411.6 242.4 L412.7 243.5 L413.7 245.3 L414.7 246.5 L415.6 247.4 L417.5 248.3 L419.3 248.7 L420.4 250.1 L421.5 251.2 L423.0 251.5 L424.6 251.5 L426.2 251.6 L427.8 252.5 L429.4 252.2 L431.0 251.2 L432.6 251.6 L434.2 251.1 L435.2 250.2 L436.2 249.6 L437.2 248.8 L438.3 247.4 L439.3 246.8 L440.5 247.3 L441.8 247.9 L443.1 248.5 L444.4 249.4 L445.6 247.8 L446.9 246.8 L447.5 245.2 L448.1 244.4 L448.6 243.5 L449.2 241.9 L450.0 242.9 L451.1 243.2 L452.2 244.3 L453.3 245.0 L454.4 246.0 L455.8 246.6 L457.3 247.3 L458.7 247.2 L459.9 247.8 L461.1 248.5 L462.2 249.3 L463.4 249.1 L464.5 250.1 L466.0 250.2 L467.5 250.7 L468.9 251.1 L470.4 251.8 L471.8 251.1 L473.3 251.7 L474.7 250.9 L476.2 250.8 L477.5 250.9 L478.7 249.4 L480.0 248.8 L481.3 248.6 L482.5 247.0 L483.7 246.2 L484.9 245.0 L485.6 243.4 L486.2 242.0 L486.9 241.5 L487.5 239.8 L489.0 238.9 L489.6 240.6 L490.1 242.5 L490.7 243.7 L491.5 245.1 L492.2 246.4 L492.9 247.8 L493.6 248.9 L494.8 248.9 L496.0 249.4 L497.1 250.6 L498.3 251.1 L499.5 251.6 L500.9 252.1 L502.4 251.5 L503.8 252.2 L505.3 252.0 L506.7 251.5 L508.2 250.8 L509.6 250.4 L511.1 250.2 L512.3 249.5 L513.4 249.2 L514.6 247.8 L515.7 247.5 L516.9 246.4 L518.2 246.0 L519.5 244.7 L520.7 244.8 L522.0 243.8 L523.2 243.9 L524.4 244.9 L525.6 245.1" stroke="#e0e0e0" stroke-width="2.5"/>
</g>
<g fill="none" stroke-width="2">
<path d="M58.2 143.3 H82.7" stroke="#2b2b2b"/>
<path d="M324.2 143.3 H348.2" stroke="#b0b0b0" stroke-width="1.6"/>
<path d="M58.2 157.6 H82.7" stroke="#dcdcdc"/>
<path d="M52 332 H75.6" stroke="#2b2b2b"/>
<path d="M209.4 332 H232.8" stroke="#b0b0b0" stroke-width="1.6"/>
<path d="M368 332 H390.8" stroke="#dcdcdc"/>
</g>
<text transform="translate(84.50 146.70) rotate(0.1)" font-size="10.40" textLength="150.0" lengthAdjust="spacingAndGlyphs">Type 2 both side convergent s1</text>
<text transform="translate(350.40 146.70) rotate(0.1)" font-size="10.40" textLength="149.6" lengthAdjust="spacingAndGlyphs">Type 2 both side convergent s2</text>
<text transform="translate(84.50 160.60) rotate(0.1)" font-size="10.40" textLength="150.0" lengthAdjust="spacingAndGlyphs">Type 2 both side convergent s3</text>
<text transform="translate(78.20 335.80) rotate(0.1)" font-size="10.40" textLength="116.5" lengthAdjust="spacingAndGlyphs">Type 2 both side dam s1</text>
<text transform="translate(236.70 335.80) rotate(0.1)" font-size="10.40" textLength="116.0" lengthAdjust="spacingAndGlyphs">Type 2 both side dam s2</text>
<text transform="translate(394.10 335.80) rotate(0.1)" font-size="10.40" textLength="116.4" lengthAdjust="spacingAndGlyphs">Type 2 both side dam s3</text>
</svg>
</body></html>
